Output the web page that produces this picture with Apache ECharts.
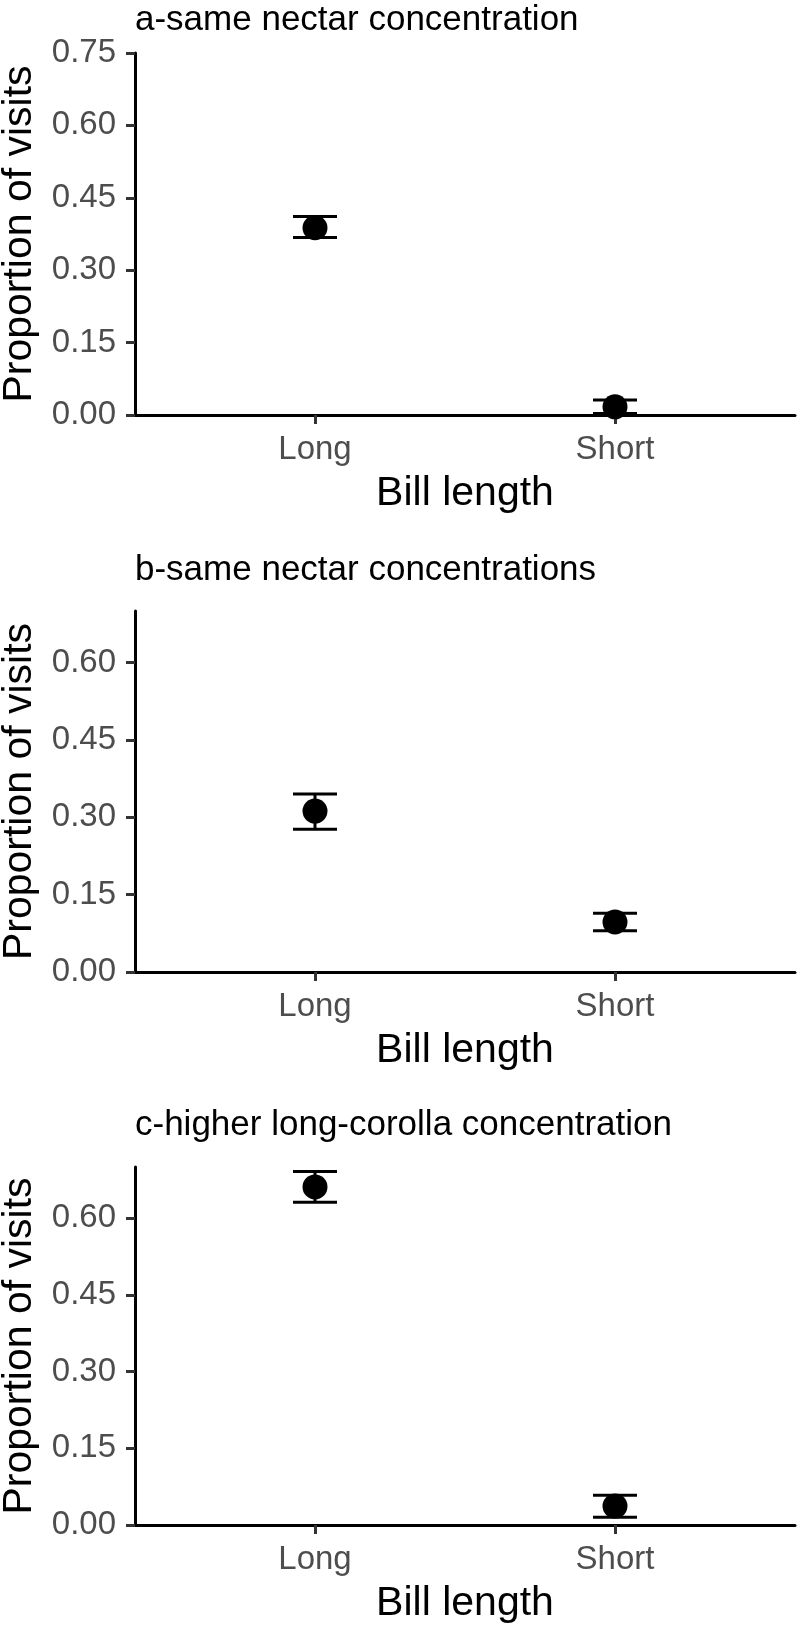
<!DOCTYPE html>
<html>
<head>
<meta charset="utf-8">
<script src="https://cdn.jsdelivr.net/npm/echarts@6/dist/echarts.min.js"></script>
<style>
body{margin:0;background:#fff;}
#chart{width:797px;height:1630px;}
</style>
</head>
<body>
<div id="chart"></div>
<script>
var byId = function(id){
	return document.getElementById(id);
};

// categories (x positions 1, 2)
var categories = ['Long', 'Short'];
var titles = ['a-same nectar concentration', 'b-same nectar concentrations', 'c-higher long-corolla concentration'];

// a
var meanA = [0.388, 0.017];
var lowA = [0.368, 0.003];
var highA = [0.411, 0.031];
// b
var meanB = [0.312, 0.097];
var lowB = [0.277, 0.080];
var highB = [0.345, 0.114];
// c
var meanC = [0.661, 0.037];
var lowC = [0.631, 0.015];
var highC = [0.691, 0.058];

// y tick labels
var yTicksA = [0, 0.15, 0.30, 0.45, 0.60, 0.75];
var yTicksBC = [0, 0.15, 0.30, 0.45, 0.60];
var yMax = [0.75, 0.70, 0.70];

var FONT = "'Liberation Sans', Arial, sans-serif";
var gridTops = [53, 611, 1167];
var gridHeights = [362, 361, 358];
var titleTops = [3, 553, 1108];

var panels = [
	{mean: meanA, low: lowA, high: highA, ticks: yTicksA},
	{mean: meanB, low: lowB, high: highB, ticks: yTicksBC},
	{mean: meanC, low: lowC, high: highC, ticks: yTicksBC}
];

var catPos = categories.map(function(c, i){ return i + 1; });

var option = {
	backgroundColor: '#fff',
	animation: false,
	title: [],
	grid: [],
	xAxis: [],
	yAxis: [],
	series: []
};

panels.forEach(function(p, k){
	option.title.push({
		text: titles[k],
		left: 135,
		top: titleTops[k],
		padding: 0,
		textStyle: {fontFamily: FONT, fontSize: 35, fontWeight: 'normal', color: '#000'}
	});
	option.grid.push({left: 135, right: 2, top: gridTops[k], height: gridHeights[k], outerBoundsMode: 'none', containLabel: false});
	option.xAxis.push({
		type: 'value',
		gridIndex: k,
		min: 0.4,
		max: 2.6,
		splitLine: {show: false},
		axisLine: {lineStyle: {color: '#000', width: 3}},
		axisTick: {customValues: catPos, length: 9, lineStyle: {color: '#333', width: 3}},
		axisLabel: {
			customValues: catPos,
			margin: 18,
			fontFamily: FONT,
			fontSize: 33,
			color: '#4d4d4d',
			formatter: function(v){ return categories[Math.round(v) - 1]; }
		},
		name: 'Bill length',
		nameLocation: 'middle',
		nameGap: 58,
		nameTextStyle: {fontFamily: FONT, fontSize: 41, color: '#000'}
	});
	option.yAxis.push({
		type: 'value',
		gridIndex: k,
		min: 0,
		max: yMax[k],
		splitLine: {show: false},
		axisLine: {show: true, lineStyle: {color: '#000', width: 3}},
		axisTick: {show: true, customValues: p.ticks, length: 9, lineStyle: {color: '#333', width: 3}},
		axisLabel: {
			customValues: p.ticks,
			margin: 19,
			fontFamily: FONT,
			fontSize: 33,
			color: '#4d4d4d',
			formatter: function(v){ return v.toFixed(2); }
		},
		name: 'Proportion of visits',
		nameLocation: 'middle',
		nameGap: 95,
		nameTextStyle: {fontFamily: FONT, fontSize: 41, color: '#000'}
	});
	// error bars
	option.series.push({
		type: 'custom',
		xAxisIndex: k,
		yAxisIndex: k,
		z: 2,
		encode: {x: 0, y: [1, 2]},
		data: catPos.map(function(x, i){ return [x, p.low[i], p.high[i]]; }),
		renderItem: function(params, api){
			var x = api.value(0);
			var lo = api.coord([x, api.value(1)]);
			var hi = api.coord([x, api.value(2)]);
			var hw = 22;
			var st = {stroke: '#000', lineWidth: 3};
			return {
				type: 'group',
				children: [
					{type: 'line', shape: {x1: lo[0], y1: lo[1], x2: hi[0], y2: hi[1]}, style: st},
					{type: 'line', shape: {x1: lo[0] - hw, y1: lo[1], x2: lo[0] + hw, y2: lo[1]}, style: st},
					{type: 'line', shape: {x1: hi[0] - hw, y1: hi[1], x2: hi[0] + hw, y2: hi[1]}, style: st}
				]
			};
		}
	});
	// means
	option.series.push({
		type: 'scatter',
		xAxisIndex: k,
		yAxisIndex: k,
		z: 3,
		symbol: 'circle',
		symbolSize: 25,
		itemStyle: {color: '#000', opacity: 1},
		data: catPos.map(function(x, i){ return [x, p.mean[i]]; })
	});
});

var chart = echarts.init(byId('chart'));
chart.setOption(option);
</script>
</body>
</html>
